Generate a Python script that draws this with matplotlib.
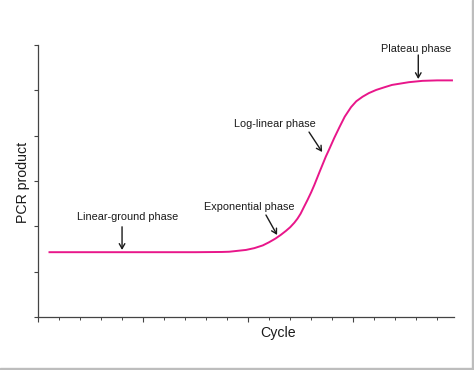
import matplotlib
matplotlib.use("Agg")
import matplotlib.pyplot as plt
from matplotlib.patches import Rectangle
from matplotlib.ticker import MultipleLocator

# curve (cycle, product)
cycle = [1.0, 5.0, 10.0, 15.0, 17.5, 18.2, 19.0, 19.8, 20.6, 21.4, 22.0, 22.6, 23.1,
         23.6, 24.0, 24.4, 24.7, 25.0, 25.3, 25.65, 26.0, 26.3, 26.8, 27.4, 27.7,
         28.2, 28.7, 29.2, 29.8, 30.3, 30.9, 31.5, 32.2, 33.0, 33.7, 34.5, 35.3,
         36.6, 38.0, 39.5]
product = [1.43, 1.43, 1.43, 1.43, 1.435, 1.44, 1.46, 1.48, 1.52, 1.58, 1.65, 1.73, 1.81,
           1.90, 1.98, 2.08, 2.17, 2.28, 2.42, 2.58, 2.75, 2.91, 3.20, 3.54, 3.69,
           3.95, 4.19, 4.42, 4.63, 4.76, 4.86, 4.94, 5.01, 5.07, 5.12, 5.15, 5.18,
           5.21, 5.22, 5.22]

phase_labels = ["Linear-ground phase", "Exponential phase", "Log-linear phase", "Plateau phase"]
label_pos = [(8.57, 2.21), (20.1, 2.43), (22.57, 4.26), (36.0, 5.92)]
arrow_from = [(8.0, 1.99), (21.7, 2.25), (25.8, 4.08), (36.2, 5.78)]
arrow_to = [(8.0, 1.48), (22.76, 1.81), (27.05, 3.64), (36.2, 5.25)]

plt.rcParams['font.family'] = ['Liberation Sans', 'DejaVu Sans']

fig = plt.figure(figsize=(4.74, 3.70), dpi=100)
ax = fig.add_axes([0.0802, 0.1432, 0.8776, 0.7351])

ax.plot(cycle, product, color="#e8168a", lw=1.4, solid_capstyle="butt", solid_joinstyle="round")

for txt, pos, start, tip in zip(phase_labels, label_pos, arrow_from, arrow_to):
    ax.text(pos[0], pos[1], txt, ha="center", va="center", fontsize=7.8, color="#1a1a1a")
    ax.annotate("", xy=tip, xytext=start,
                arrowprops=dict(arrowstyle="->,head_length=0.35,head_width=0.2",
                                color="#1a1a1a", lw=1.0, shrinkA=0, shrinkB=0))

ax.set_xlim(0, 39.6)
ax.set_ylim(0, 6)
ax.xaxis.set_major_locator(MultipleLocator(10))
ax.xaxis.set_minor_locator(MultipleLocator(2))
ax.yaxis.set_major_locator(MultipleLocator(1))
ax.tick_params(axis="x", which="major", length=3.5, width=0.8, color="#444444",
               labelbottom=False, direction="out")
ax.tick_params(axis="x", which="minor", length=2, width=0.7, color="#444444", direction="out")
ax.tick_params(axis="y", which="major", length=3, width=0.8, color="#444444",
               labelleft=False, direction="out")

for s in ["top", "right"]:
    ax.spines[s].set_visible(False)
for s in ["left", "bottom"]:
    ax.spines[s].set_color("#444444")
    ax.spines[s].set_linewidth(0.9)

ax.text(0.577, -0.059, "Cycle", transform=ax.transAxes, ha="center", va="center",
        fontsize=10.2, color="#1a1a1a")
ax.text(-0.036, 0.494, "PCR product", transform=ax.transAxes, ha="center", va="center",
        rotation=90, fontsize=10.2, color="#1a1a1a")

# grey frame on the right and bottom edges
fig.patches.append(Rectangle((1 - 2.5 / 474, 0), 2.5 / 474, 1, transform=fig.transFigure,
                             color="#bdbdbd", zorder=10))
fig.patches.append(Rectangle((0, 0), 1, 2.5 / 370, transform=fig.transFigure,
                             color="#bdbdbd", zorder=10))

fig.savefig("out.png", dpi=100)
